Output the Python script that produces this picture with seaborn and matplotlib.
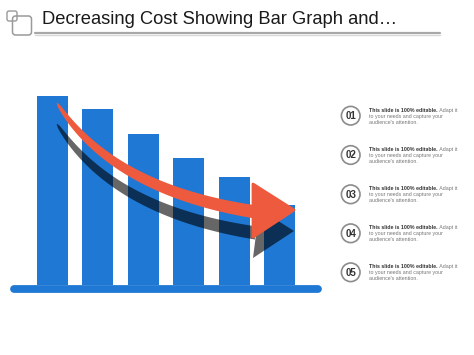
import numpy as np
import pandas as pd
import matplotlib
matplotlib.use("Agg")
import matplotlib.pyplot as plt
import seaborn as sns
from matplotlib.patches import Polygon, Circle, FancyBboxPatch

# --- data ---
categories = ["1", "2", "3", "4", "5", "6"]
costs = [100, 93.3, 79.7, 67, 57, 42.3]
step_labels = ["01", "02", "03", "04", "05"]
step_bold = "This slide is 100% editable."
step_rest = " Adapt it"
step_lines = ["to your needs and capture your", "audience's attention."]
title = "Decreasing Cost Showing Bar Graph and\u2026"

df = pd.DataFrame({"cat": categories, "cost": costs})

sns.set_theme(style="white")
plt.rcParams["font.family"] = ["Liberation Sans", "DejaVu Sans"]

W, H = 474, 355
fig = plt.figure(figsize=(W / 100, H / 100), dpi=100)

# bar axes placed in pixel terms
blue = "#1f78d4"
ax = fig.add_axes([29.5 / W, (H - 285) / H, 273 / W, 208 / H])
sns.barplot(data=df, x="cat", y="cost", color=blue, saturation=1,
            width=0.68, linewidth=0, ax=ax)
ax.set_xlim(-0.5, 5.5)
ax.set_ylim(0, 110)
ax.axis("off")

# overlay in pixel coords for decorations
ov = fig.add_axes([0, 0, 1, 1], zorder=5)
ov.set_xlim(0, W)
ov.set_ylim(H, 0)
ov.axis("off")
ov.patch.set_alpha(0)

# baseline
ov.plot([14, 318], [289, 289], color=blue, lw=5.6, solid_capstyle="round")


def arrow_poly(dy):
    p0, p1, p2 = np.array([57, 103 + dy]), np.array([112, 190 + dy]), np.array([256, 212 + dy])
    t = np.linspace(0, 1, 60)[:, None]
    pts = (1 - t) ** 2 * p0 + 2 * (1 - t) * t * p1 + t ** 2 * p2
    d = np.gradient(pts, axis=0)
    n = np.stack([-d[:, 1], d[:, 0]], axis=1)
    n /= np.linalg.norm(n, axis=1)[:, None]
    w = (0.4 + 6.2 * t[:, 0] ** 0.45)[:, None]
    upper = pts + n * w
    lower = pts - n * w
    shaft = np.vstack([upper, lower[::-1]])
    head = np.array([[253, 184 + dy], [294, 210 + dy], [253, 237 + dy]])
    return shaft, head


sh_shaft, sh_head = arrow_poly(21)
ov.add_patch(Polygon(np.vstack([sh_shaft[:60], sh_head, sh_shaft[60:]]), closed=True,
                     fc="black", ec="none", alpha=0.6))
red = "#ee5a3e"
r_shaft, r_head = arrow_poly(0)
ov.add_patch(Polygon(r_shaft, closed=True, fc=red, ec="none"))
ov.add_patch(Polygon(r_head, closed=True, fc=red, ec=red, lw=2, joinstyle="round"))

# title + icon
ov.text(42, 24.5, title, fontsize=13.2, color="#1a1a1a", va="baseline", ha="left")
ov.plot([35, 440], [32.5, 32.5], color="#a8a8a8", lw=1.6)
ov.plot([35, 440], [34.5, 34.5], color="#d8d8d8", lw=1.0)
ov.add_patch(FancyBboxPatch((12.5, 16), 19, 19, boxstyle="round,pad=0,rounding_size=3",
                            fc="white", ec="#9a9a9a", lw=1.1))
ov.add_patch(FancyBboxPatch((7, 11), 10, 10, boxstyle="round,pad=0,rounding_size=2",
                            fc="none", ec="#9a9a9a", lw=1.0))

# numbered steps
ys = [115.7, 155, 194.3, 233.3, 272.3]
for lab, y in zip(step_labels, ys):
    ov.add_patch(Circle((350.7, y), 9.3, fc="white", ec="#8c8c8c", lw=1.2))
    ov.text(350.7, y + 0.3, lab, fontsize=7, fontweight="bold", color="#333333",
            ha="center", va="center")
    t1 = ov.text(369.5, y - 5.5, step_bold, fontsize=3.8, fontweight="bold",
                 color="#333333", ha="left", va="center")
    ov.annotate(step_rest, xycoords=t1, xy=(1, 0.5), va="center", ha="left",
                fontsize=3.8, color="#777777")
    for k, line in enumerate(step_lines):
        ov.text(369.5, y + 0.6 + 6 * k, line, fontsize=3.8, color="#777777",
                ha="left", va="center")

fig.savefig("out.png", dpi=100)
